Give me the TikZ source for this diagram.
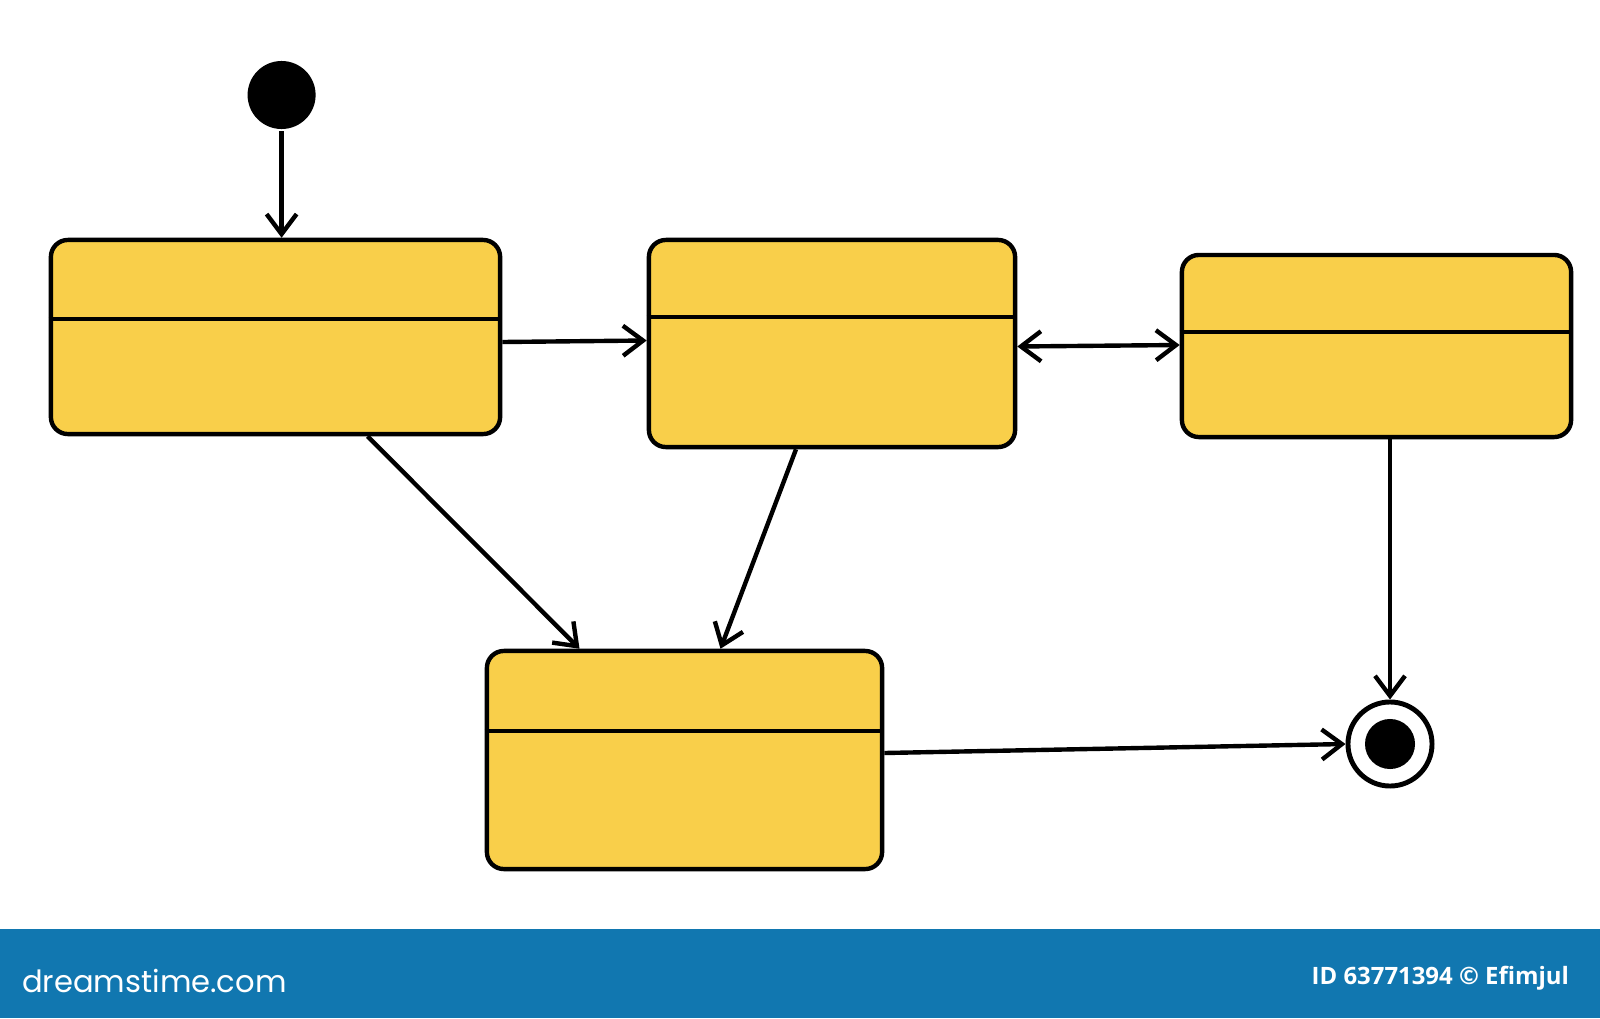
\documentclass[tikz,border=0pt]{standalone}
\usepackage{fontspec}
\usetikzlibrary{arrows.meta,calc}
\newfontfamily\logofont{Poppins}
\newfontfamily\idfont{Open Sans}
\definecolor{statefill}{RGB}{249,207,74}
\definecolor{barblue}{RGB}{17,119,176}

\begin{document}
\begin{tikzpicture}[x=0.01cm,y=-0.01cm,line width=1.25pt]
			\tikzstyle{every node}+=[inner sep=0pt]
			\tikzstyle{state}=[draw,fill=statefill,rounded corners=0.17cm]
			\tikzstyle{trans}=[-{Straight Barb[length=2mm,width=3mm]}]
			\useasboundingbox (0,0) rectangle (1600,1018);
			\fill [white] (0,0) rectangle (1600,1018);
			% states
			\node [state,minimum width=4.49cm,minimum height=1.94cm] (A) at (275.5,337) {};
			\node [state,minimum width=3.66cm,minimum height=2.07cm] (B) at (832,343.5) {};
			\node [state,minimum width=3.89cm,minimum height=1.82cm] (C) at (1376.5,346) {};
			\node [state,minimum width=3.95cm,minimum height=2.18cm] (D) at (684.5,760) {};
			\draw ($(A.north west)+(0,81)$) -- ($(A.north east)+(0,81)$);
			\draw ($(B.north west)+(0,79)$) -- ($(B.north east)+(0,79)$);
			\draw ($(C.north west)+(0,79)$) -- ($(C.north east)+(0,79)$);
			\draw ($(D.north west)+(0,82)$) -- ($(D.north east)+(0,82)$);
			% initial and final
			\node [circle,fill=black,minimum size=0.68cm] (init) at (281.6,95) {};
			\node [circle,draw,line width=1.4pt,fill=white,minimum size=0.84cm] (final) at (1390,744) {};
			\node [circle,fill=black,minimum size=0.5cm] (finaldot) at (final) {};
			% transitions
			\draw [trans] (init) -- (init |- A.north);
			\draw [trans] ($(A.east)+(0,5)$) -- ($(B.west)+(0,-3)$);
			\draw [{Straight Barb[length=2mm,width=3mm]}-{Straight Barb[length=2mm,width=3mm]}] ($(B.east)+(0,3)$) -- ($(C.west)+(0,-1)$);
			\draw [trans] ($(A.south)+(92,0)$) -- ($(D.north)+(-105,0)$);
			\draw [trans] ($(B.south)+(-36,0)$) -- ($(D.north)+(36,0)$);
			\draw [trans] (final |- C.south) -- (final.north);
			\draw [trans] ($(D.east)+(0,-7)$) -- (final.west);
			% footer
			\fill [barblue] (0,929) rectangle (1600,1018);
			\node [anchor=west,text=white] (logo) at (20,981) {\logofont\fontsize{8.7}{10}\selectfont dreamstime.com};
			\node [anchor=east,text=white] (credit) at (1571,978) {\idfont\bfseries\fontsize{6.8}{8}\selectfont ID 63771394 © Efimjul};
\end{tikzpicture}
\end{document}
